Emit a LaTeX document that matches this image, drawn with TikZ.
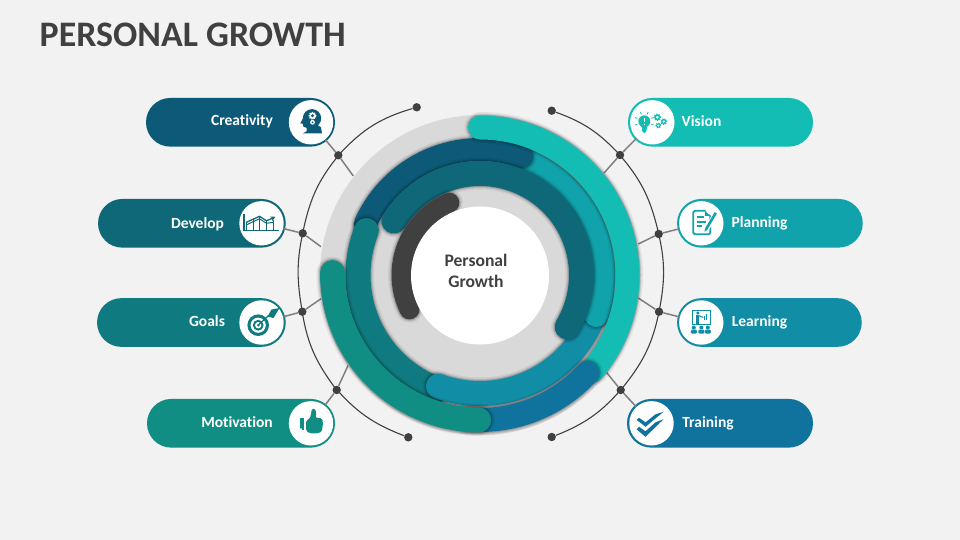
\documentclass[tikz,border=0pt]{standalone}
\usepackage{fontspec}
\setmainfont[Ligatures=NoCommon]{Carlito}
\usetikzlibrary{arrows.meta,calc}

\definecolor{bgpage}{HTML}{F2F2F2}
\definecolor{inkdark}{HTML}{404040}
\definecolor{diskgray}{HTML}{D9D9D9}
\definecolor{spokegray}{HTML}{7F7F7F}
\definecolor{creacol}{HTML}{0C5A78}
\definecolor{devcol}{HTML}{0E6878}
\definecolor{goalcol}{HTML}{0F7B80}
\definecolor{motcol}{HTML}{108E84}
\definecolor{viscol}{HTML}{14BDB4}
\definecolor{plancol}{HTML}{11A3AC}
\definecolor{learncol}{HTML}{118DA6}
\definecolor{traincol}{HTML}{0F739E}

\tikzset{
  pillbox/.style={minimum height=48.7pt,rounded corners=24.3pt,inner sep=0pt},
  iconbox/.style={circle,fill=white,minimum size=44.4pt,inner sep=0pt},
  pilltext/.style={text=white,font=\fontsize{15.5}{18}\selectfont\bfseries,inner sep=0pt},
  dotmark/.style={circle,fill=inkdark,minimum size=8.4pt,inner sep=0pt},
  endmark/.style={circle,fill=inkdark,minimum size=8.4pt,inner sep=0pt},
  thinring/.style={draw=inkdark,line width=1.1pt},
  spoke/.style={draw=spokegray,line width=1.5pt},
}

% colour, centre x, centre y, radius, start angle, end angle, width
\newcommand{\bandarc}[7]{
  \foreach \extra/\shade in {7/.06,4/.1,2/.14}
    \draw[black,opacity=\shade,line cap=round,line width=#7pt+\extra pt]
      ($(#2,#3)+(#5:#4pt)$) arc[start angle=#5,end angle=#6,radius=#4pt];
  \draw[#1,line cap=round,line width=#7pt]
    ($(#2,#3)+(#5:#4pt)$) arc[start angle=#5,end angle=#6,radius=#4pt];
}
% position, radius, colour, hole colour
\newcommand{\gearmark}[4]{
  \draw[#3,line width=1.1pt,dash pattern=on 1.2pt off 1.2pt] (#1) circle[radius=#2pt+.2pt];
  \fill[#3] (#1) circle[radius=#2pt];
  \fill[#4] (#1) circle[radius=#2pt*.5];
}

\begin{document}
\begin{tikzpicture}[x=1pt,y=1pt]
  \useasboundingbox (0,0) rectangle (960,-540);
  \fill[bgpage] (0,0) rectangle (960,-540);

  \node[anchor=base west,inner sep=0pt,text=inkdark,font=\fontsize{35.9}{40}\selectfont\bfseries] (title) at (39.5,-46.5) {PERSONAL GROWTH};

  % the pills: name, pill x, y, width, icon x, text x, text y, colour, text
  \foreach \nm/\px/\py/\pw/\ix/\tx/\ty/\tcol/\txt in {
      Crea/240.5/122.3/189/311/242/121.4/creacol/Creativity,
      Dev/191.9/223.3/187.7/261.5/197.5/223.8/devcol/Develop,
      Goal/191.4/322.5/188.7/261.5/207/321.2/goalcol/Goals,
      Mot/241/423.3/188/311/237/422.2/motcol/Motivation,
      Vis/720.5/122.3/185/652.3/701.5/121.2/viscol/Vision,
      Plan/769.9/223.3/185.7/701.3/759.5/223.6/plancol/Planning,
      Learn/769.4/322.5/184.7/701.3/759.5/322.4/learncol/Learning,
      Train/720/423.3/186/651.5/708/423.3/traincol/Training}{
    \node[pillbox,fill=\tcol,minimum width=\pw pt] (pill\nm) at (\px,-\py) {};
    \node[iconbox] (icon\nm) at (\ix,-\py) {};
    \node[pilltext] (label\nm) at (\tx,-\ty) {\txt};
  }

  % dots on the two thin rings
  \node[endmark] (topR) at (551.7,-110.7) {};
  \node[dotmark] (dotVis) at (620,-155) {};
  \node[dotmark] (dotPlan) at (658.7,-234) {};
  \node[dotmark] (dotLearn) at (659,-311.7) {};
  \node[dotmark] (dotTrain) at (620.7,-390) {};
  \node[endmark] (botR) at (551.7,-437) {};
  \node[endmark] (topL) at (416.7,-107.3) {};
  \node[dotmark] (dotCrea) at (338.3,-155.3) {};
  \node[dotmark] (dotDev) at (302.7,-233.3) {};
  \node[dotmark] (dotGoal) at (302.3,-311.7) {};
  \node[dotmark] (dotMot) at (336.7,-390) {};
  \node[endmark] (botL) at (408.3,-437.3) {};

  \draw[thinring] (topR) to[bend left=13] (dotVis) to[bend left=14] (dotPlan)
    to[bend left=12] (dotLearn) to[bend left=14] (dotTrain) to[bend left=14] (botR);
  \draw[thinring] (topL) to[bend right=15] (dotCrea) to[bend right=14] (dotDev)
    to[bend right=11] (dotGoal) to[bend right=14] (dotMot) to[bend right=14] (botL);

  % spokes, they end on the edge of the disc
  \coordinate (rimCrea) at (353.3,-176);
  \coordinate (rimDev) at (321,-246.7);
  \coordinate (rimGoal) at (321,-298.7);
  \coordinate (rimMot) at (348.3,-365);
  \coordinate (rimVis) at (604,-173);
  \coordinate (rimPlan) at (638.3,-244);
  \coordinate (rimLearn) at (638.3,-298);
  \coordinate (rimTrain) at (606,-371.7);
  \foreach \nm in {Crea,Dev,Goal,Mot,Vis,Plan,Learn,Train}
    \draw[spoke] (icon\nm) -- (dot\nm) -- (rim\nm);

  % disc and bands
  \fill[diskgray] (480,-275) circle[radius=160pt];

  \bandarc{plancol}{480}{-275}{123}{72}{-19}{24}
  \bandarc{creacol}{480}{-275}{125.5}{156}{70.6}{23}
  \bandarc{goalcol}{480}{-275}{122}{158.6}{250}{25}
  \bandarc{learncol}{480}{-272}{121.5}{-110}{-15}{25}
  \foreach \extra/\shade in {7/.06,4/.1,2/.14}
    \draw[black,opacity=\shade,line cap=round,line width=24pt+\extra pt]
      ($(480,-275)+(-19:123pt)$) arc[start angle=-19,end angle=-10,radius=123pt];
  \draw[plancol,line cap=round,line width=24pt]
    ($(480,-275)+(-19:123pt)$) arc[start angle=-19,end angle=5,radius=123pt];

  \bandarc{devcol}{480}{-275}{101.5}{148}{-30.8}{25}
  \bandarc{inkdark}{480}{-275}{78.5}{113}{206}{20}

  \bandarc{viscol}{480}{-275}{147.5}{90}{-40}{24}
  \bandarc{traincol}{480}{-274}{146}{-42.6}{-95}{24}
  \bandarc{motcol}{480}{-272.5}{147.5}{180}{269.5}{25}

  \node[circle,fill=white,minimum size=138pt,inner sep=0pt] (hub) at (480,-275.5) {};
  \node[text=inkdark,align=center,font=\fontsize{17.6}{21}\selectfont\bfseries,inner sep=0pt] (hubtext) at (476,-270.5) {Personal\\Growth};

  % icons
  \begin{scope}[shift={(iconCrea.center)}]
    \fill[creacol] (1,4) circle[radius=9.2pt];
    \fill[creacol] (-8,4) -- (-10.7,-1) -- (-8,-1.5) -- (-7.6,-4.5) -- (-4.5,-5.5) -- (-4.5,-9) -- (-8,-11) -- (11,-11) -- (10,-5) -- (7,-3) -- cycle;
    \gearmark{1.5,6.5}{3.2}{white}{creacol}
    \fill[white] (1.5,0) circle[radius=2.4pt];
    \fill[creacol] (1.5,0) circle[radius=1pt];
  \end{scope}
  \begin{scope}[shift={(iconDev.center)}]
    \draw[devcol,line width=1.2pt] (-17.5,9) -- (-17.5,-7) -- (17.5,-7);
    \draw[devcol,line width=1.3pt,-{Stealth[length=5pt,width=5pt]}] (-15,1) -- (-2,7) -- (5,2.5) -- (14,6.5);
    \draw[devcol,line width=1pt] (-15,1) -- (-15,-6.5) (-8.5,4) -- (-8.5,-6.5) (-2,7) -- (-2,-6.5) (5,2.5) -- (5,-6.5) (12,3.5) -- (12,-6.5);
    \draw[devcol,line width=1pt] (-15,-1.5) -- (-2,4.5) -- (5,0) -- (12,1);
  \end{scope}
  \begin{scope}[shift={(iconGoal.center)}]
    \fill[goalcol] (-3.3,-2.7) circle[radius=10.8pt];
    \fill[white] (-3.3,-2.7) circle[radius=7.6pt];
    \fill[goalcol] (-3.3,-2.7) circle[radius=5.4pt];
    \fill[white] (-3.3,-2.7) circle[radius=3.2pt];
    \fill[goalcol] (-3.3,-2.7) circle[radius=1.4pt];
    \draw[goalcol,line width=1.2pt] (-3.3,-2.7) -- (7,7);
    \fill[goalcol] (6,6) -- (10,13) -- (18,14.5) -- (12,4.5) -- cycle;
  \end{scope}
  \begin{scope}[shift={(iconMot.center)}]
    \fill[motcol] (-11.5,5.5) rectangle (-7,-7);
    \fill[white] (-10,-6) circle[radius=1.1pt];
    \fill[motcol,rounded corners=1.5pt] (-5,2.5) -- (-1,5) -- (1,14.5) -- (3.5,15) -- (5.5,11) -- (4.5,5.5) -- (11,5) -- (12,1) -- (11,-8) -- (7,-10) -- (-1,-10) -- (-5,-7.5) -- cycle;
  \end{scope}
  \begin{scope}[shift={(iconVis.center)}]
    \fill[viscol] (-8,1) circle[radius=6pt];
    \fill[viscol] (-11,-3) -- (-5,-3) -- (-6,-9) -- (-8,-11) -- (-10,-9) -- cycle;
    \draw[white,line width=1.3pt] (-8,4) -- (-8,0) (-8,-1.5) -- (-8,-2.5);
    \foreach \ang in {0,45,...,225}
      \draw[viscol,line width=.8pt] ($(-8,1)+(\ang-22.5:7.5pt)$) -- ($(-8,1)+(\ang-22.5:10pt)$);
    \gearmark{5,5}{3}{viscol}{white}
    \gearmark{11.5,.7}{2.6}{viscol}{white}
    \gearmark{6,-3.2}{2.2}{viscol}{white}
  \end{scope}
  \begin{scope}[shift={(iconPlan.center)}]
    \draw[plancol,line width=1.8pt,rounded corners=1.5pt,fill=white] (-8,12.5) rectangle (9,-11);
    \fill[white] (3,14) -- (10.5,14) -- (10.5,7) -- cycle;
    \fill[plancol] (3.5,12.5) -- (3.5,7.5) -- (9,7.5) -- cycle;
    \draw[plancol,line width=1.7pt] (-4.5,6) -- (3,6) (-4.5,1.5) -- (5,1.5) (-4.5,-3) -- (1,-3);
    \draw[white,line width=5pt] (4.5,-7) -- (14,9);
    \draw[plancol,line width=2.6pt] (5,-5.5) -- (14.5,10.5);
    \fill[plancol] (3.2,-8.5) -- (3.8,-4.8) -- (6.3,-6.2) -- cycle;
  \end{scope}
  \begin{scope}[shift={(iconLearn.center)}]
    \draw[learncol,line width=1pt] (-9,12) rectangle (8.7,-2);
    \fill[learncol] (-3.5,9.5) circle[radius=1.7pt];
    \fill[learncol] (-5,8) rectangle (-2,-1);
    \draw[learncol,line width=1pt] (-3,7) -- (2,5);
    \fill[learncol] (2.5,3) rectangle (3.8,7);
    \fill[learncol] (4.8,3) rectangle (6.1,8.5);
    \foreach \hx in {-7.5,0,6.5}{
      \fill[learncol] (\hx,-5) circle[radius=2pt];
      \fill[learncol,rounded corners=1pt] (\hx-3,-11) rectangle (\hx+3,-7.2);
    }
  \end{scope}
  \begin{scope}[shift={(iconTrain.center)}]
    \fill[traincol] (-15,3.5) -- (-6,-3.5) -- (12,11.5) -- (4,9) -- (-6,1) -- (-12.5,5.5) -- cycle;
    \fill[traincol] (-15,-6) -- (-6,-13.5) -- (12,4) -- (4,1) -- (-6,-8) -- (-12.5,-3.5) -- cycle;
  \end{scope}
\end{tikzpicture}
\end{document}
